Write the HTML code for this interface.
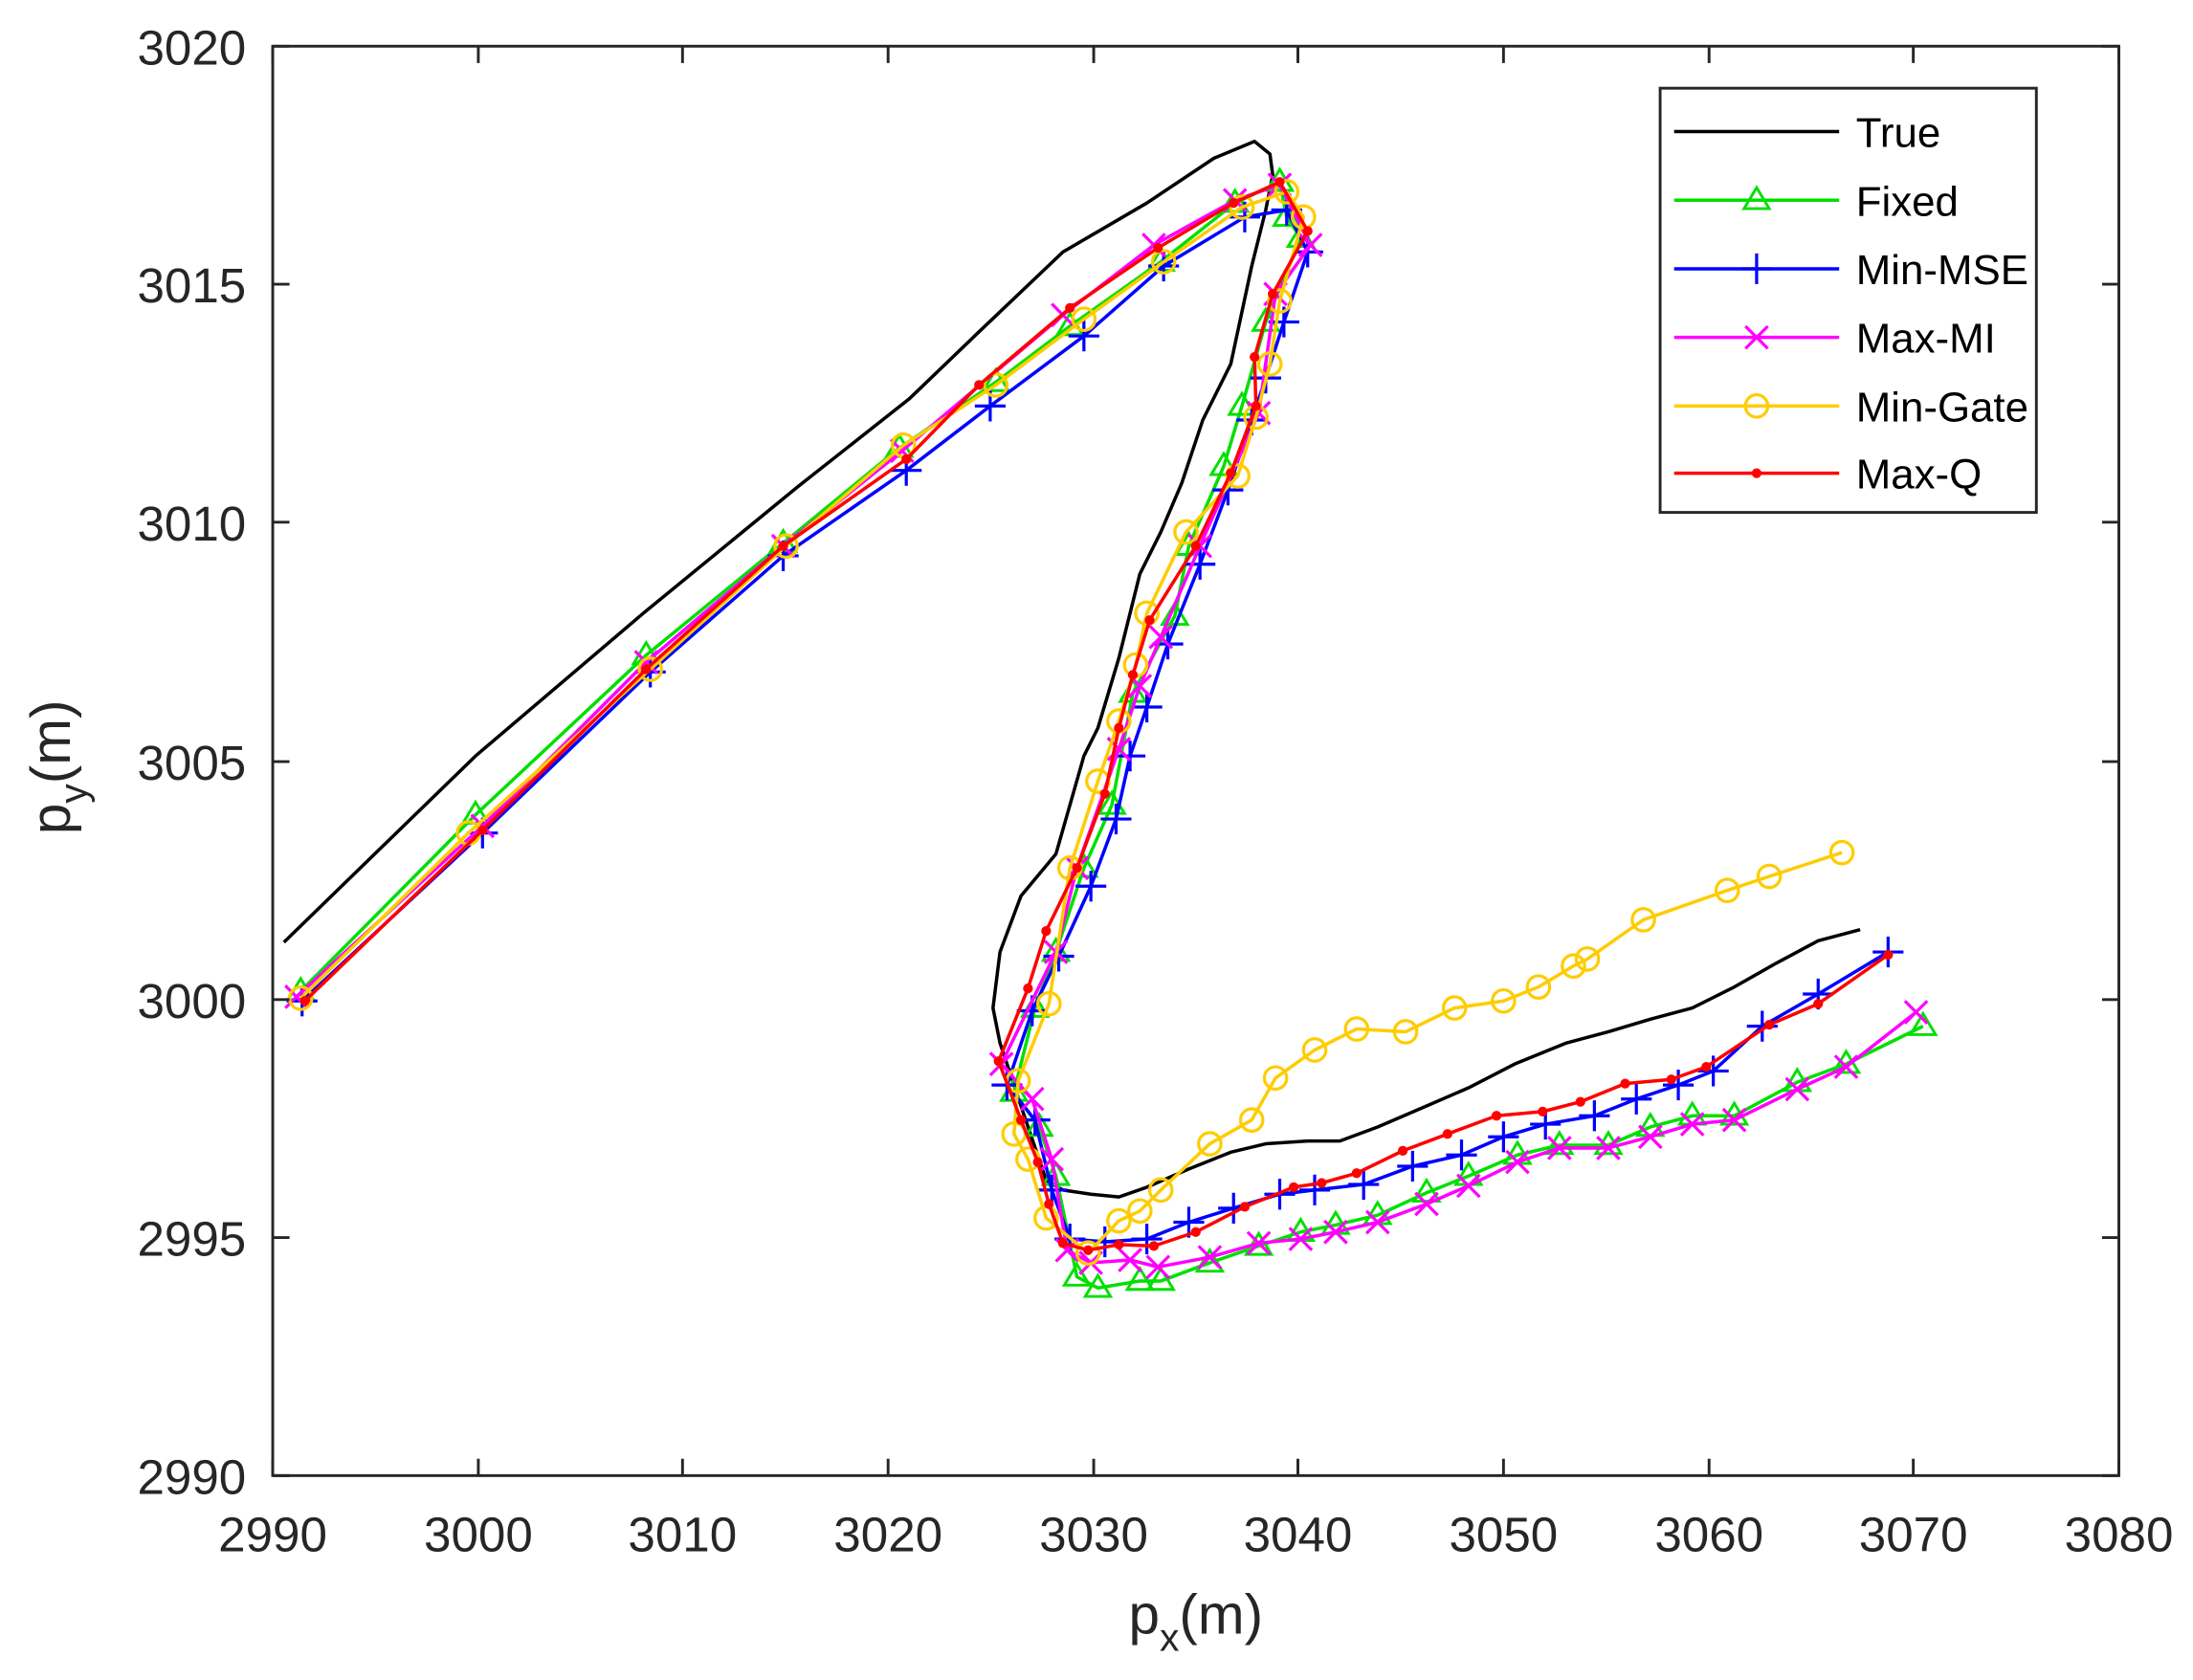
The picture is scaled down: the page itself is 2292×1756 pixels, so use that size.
<!DOCTYPE html>
<html><head><style>html,body{margin:0;padding:0;background:#fff}svg{display:block}</style></head><body>
<svg width="2292" height="1756" viewBox="0 0 1568 1200" preserveAspectRatio="none" xmlns="http://www.w3.org/2000/svg" font-family="Liberation Sans, Arial, sans-serif">
<defs>
<marker id="tri" markerUnits="userSpaceOnUse" markerWidth="24" markerHeight="24" refX="12" refY="12" overflow="visible"><path d="M12 3 L21 18 L3 18 Z" fill="none" stroke="#00e000" stroke-width="2"/></marker>
<marker id="plus" markerUnits="userSpaceOnUse" markerWidth="24" markerHeight="24" refX="12" refY="12" overflow="visible"><path d="M12 1 V23 M1 12 H23" stroke="#0000ff" stroke-width="2.2"/></marker>
<marker id="xx" markerUnits="userSpaceOnUse" markerWidth="24" markerHeight="24" refX="12" refY="12" overflow="visible"><path d="M4 4 L20 20 M20 4 L4 20" stroke="#ff00ff" stroke-width="2.2"/></marker>
<marker id="circ" markerUnits="userSpaceOnUse" markerWidth="24" markerHeight="24" refX="12" refY="12" overflow="visible"><circle cx="12" cy="12" r="8" fill="none" stroke="#ffcc00" stroke-width="2.2"/></marker>
<marker id="dot" markerUnits="userSpaceOnUse" markerWidth="10" markerHeight="10" refX="5" refY="5" overflow="visible"><circle cx="5" cy="5" r="3.5" fill="#ff0000"/></marker>
</defs>
<rect x="0" y="0" width="1568" height="1200" fill="#fff"/>
<g fill="none" stroke-linejoin="round">
<polyline stroke="#000" stroke-width="2.4" points="203,673 340,540 460,438 570,348 650,285 700,237 760,180 820,145 868,113 897,101 908,110 910,125 905,150 895,190 880,260 860,300 845,345 830,380 815,410 800,470 785,520 775,540 755,610 730,640 715,680 710,720 715,745 730,790 748,843 760,850 780,853 800,855 820,848 850,835 880,823 905,817 935,815 958,815 985,805 1020,790 1050,777 1083,760 1120,745 1150,737 1180,728 1210,720 1240,705 1270,688 1300,672 1330,664"/>
<polyline stroke="#00e000" stroke-width="2.4" marker-start="url(#tri)" marker-mid="url(#tri)" marker-end="url(#tri)" points="215,708 340,582 462,468 560,388 643,320 712,273 765,233 830,187 883,145 915,130 920,155 930,170 905,230 888,290 875,333 850,390 840,440 810,495 795,575 775,620 755,680 740,720 725,780 743,805 755,840 770,912 785,920 815,915 830,915 865,902 900,890 930,880 955,875 985,868 1020,852 1050,840 1085,825 1115,818 1150,818 1180,805 1210,797 1240,797 1285,773 1320,760 1375,733"/>
<polyline stroke="#0000ff" stroke-width="2.4" marker-start="url(#plus)" marker-mid="url(#plus)" marker-end="url(#plus)" points="216,715 345,595 465,480 560,397 648,336 708,290 775,240 832,190 890,155 920,150 935,180 918,230 905,270 895,300 878,350 858,403 835,460 820,505 808,540 798,585 780,633 757,683 738,722 720,775 740,800 752,850 765,885 790,887 820,885 850,873 882,863 915,853 940,850 975,846 1010,833 1045,825 1075,812 1105,803 1140,797 1170,785 1200,775 1225,765 1260,733 1300,710 1350,680"/>
<polyline stroke="#ff00ff" stroke-width="2.4" marker-start="url(#xx)" marker-mid="url(#xx)" marker-end="url(#xx)" points="212,712 345,590 462,473 560,390 645,322 760,225 825,175 883,143 915,132 937,175 912,210 900,295 858,390 830,455 815,490 800,535 770,620 755,680 716,760 738,785 752,828 763,893 780,902 808,900 828,905 865,898 900,888 930,885 955,880 985,873 1020,860 1050,847 1085,830 1115,820 1150,820 1180,812 1210,803 1240,800 1285,778 1320,762 1370,723"/>
<polyline stroke="#ffcc00" stroke-width="2.4" marker-start="url(#circ)" marker-mid="url(#circ)" marker-end="url(#circ)" points="215,713 335,595 465,478 562,390 646,318 712,275 775,228 832,187 888,148 920,137 932,155 915,215 908,260 898,298 885,340 848,380 820,438 812,475 800,515 785,558 765,620 750,717 728,772 725,810 735,828 748,870 778,895 800,872 815,865 830,850 865,817 895,800 912,770 940,750 970,735 1005,737 1040,720 1075,715 1100,705 1125,690 1135,685 1175,657 1235,636 1265,626 1317,609"/>
<polyline stroke="#ff0000" stroke-width="2.4" marker-start="url(#dot)" marker-mid="url(#dot)" marker-end="url(#dot)" points="218,715 345,593 462,478 560,390 648,328 700,275 765,220 828,177 882,145 915,130 935,165 910,210 897,255 898,290 880,338 855,390 822,443 810,482 800,520 790,567 770,620 748,665 735,706 714,758 730,800 742,830 750,860 760,888 778,893 800,889 825,890 855,880 890,862 925,848 945,845 970,838 1003,822 1035,810 1070,797 1103,794 1130,787 1162,774 1195,771 1220,762 1265,732 1300,717 1350,682"/>
</g>
<rect x="195" y="33" width="1320" height="1021" fill="none" stroke="#262626" stroke-width="2"/>
<g stroke="#262626" stroke-width="2">
<path d="M195 1054v-12M342 1054v-12M488 1054v-12M635 1054v-12M782 1054v-12M928 1054v-12M1075 1054v-12M1222 1054v-12M1368 1054v-12M1515 1054v-12"/>
<path d="M195 33v12M342 33v12M488 33v12M635 33v12M782 33v12M928 33v12M1075 33v12M1222 33v12M1368 33v12M1515 33v12"/>
<path d="M195 33h12M195 203h12M195 373h12M195 544h12M195 714h12M195 884h12M195 1054h12"/>
<path d="M1515 33h-12M1515 203h-12M1515 373h-12M1515 544h-12M1515 714h-12M1515 884h-12M1515 1054h-12"/>
</g>
<g font-size="35" fill="#262626" text-anchor="middle">
<text x="195" y="1108">2990</text><text x="342" y="1108">3000</text><text x="488" y="1108">3010</text><text x="635" y="1108">3020</text><text x="782" y="1108">3030</text><text x="928" y="1108">3040</text><text x="1075" y="1108">3050</text><text x="1222" y="1108">3060</text><text x="1368" y="1108">3070</text><text x="1515" y="1108">3080</text>
</g>
<g font-size="35" fill="#262626" text-anchor="end">
<text x="176" y="46">3020</text><text x="176" y="216">3015</text><text x="176" y="386">3010</text><text x="176" y="557">3005</text><text x="176" y="727">3000</text><text x="176" y="897">2995</text><text x="176" y="1067">2990</text>
</g>
<text x="855" y="1167" font-size="40" fill="#262626" text-anchor="middle">p<tspan font-size="28" dy="12">x</tspan><tspan dy="-12">(m)</tspan></text>
<text transform="translate(50,548) rotate(-90)" font-size="40" fill="#262626" text-anchor="middle">p<tspan font-size="28" dy="12">y</tspan><tspan dy="-12">(m)</tspan></text>
<rect x="1187" y="63" width="269" height="303" fill="#fff" stroke="#262626" stroke-width="2"/>
<g stroke-width="2.4" fill="none">
<line x1="1197" y1="94" x2="1315" y2="94" stroke="#000"/>
<polyline points="1197,143 1256,143 1315,143" stroke="#00e000" marker-mid="url(#tri)"/>
<polyline points="1197,192 1256,192 1315,192" stroke="#0000ff" marker-mid="url(#plus)"/>
<polyline points="1197,241 1256,241 1315,241" stroke="#ff00ff" marker-mid="url(#xx)"/>
<polyline points="1197,290 1256,290 1315,290" stroke="#ffcc00" marker-mid="url(#circ)"/>
<polyline points="1197,338 1256,338 1315,338" stroke="#ff0000" marker-mid="url(#dot)"/>
</g>
<g font-size="30" fill="#000">
<text x="1327" y="105">True</text><text x="1327" y="154">Fixed</text><text x="1327" y="203">Min-MSE</text><text x="1327" y="252">Max-MI</text><text x="1327" y="301">Min-Gate</text><text x="1327" y="349">Max-Q</text>
</g>
</svg>
</body></html>
